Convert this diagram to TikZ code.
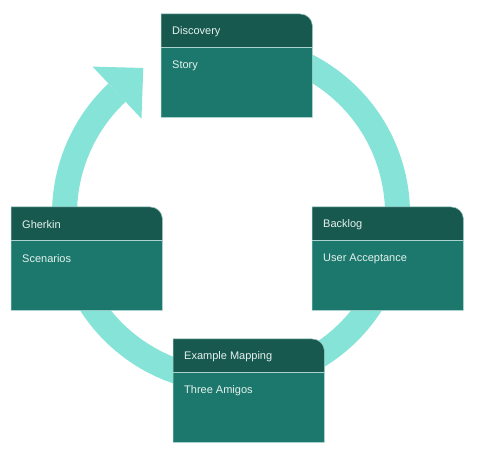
\documentclass[tikz,border=0pt]{standalone}
\usepackage{fontspec}
\setmainfont{Liberation Sans}
\usetikzlibrary{calc}
\definecolor{ringcol}{HTML}{85E3D8}
\definecolor{headcol}{HTML}{17594F}
\definecolor{bodycol}{HTML}{1C786C}
\definecolor{edgecol}{HTML}{A9D3CC}
\definecolor{txtcol}{HTML}{E6F2EF}
\tikzset{
  boxframe/.style={minimum width=151pt, minimum height=103pt, inner sep=0pt, anchor=north west, draw=none},
  lbl/.style={anchor=west, inner sep=0pt, text=txtcol, font=\fontsize{11}{13}\selectfont},
  ring/.style={draw=ringcol, line width=25pt},
  ringhead/.style={fill=ringcol, draw=none},
}
\newcommand{\cardbox}[5]{% name, x, y(top, px), header, body
  \node[boxframe] (#1) at (#2, 460-#3) {};
  \fill[bodycol] (#1.south west) -- (#1.north west) -- ([xshift=-12pt]#1.north east)
     arc[start angle=90, end angle=0, radius=12pt] -- (#1.south east) -- cycle;
  \fill[headcol] ([yshift=-33pt]#1.north west) -- (#1.north west) -- ([xshift=-12pt]#1.north east)
     arc[start angle=90, end angle=0, radius=12pt] -- ([yshift=-33pt]#1.north east) -- cycle;
  \draw[edgecol, line width=0.5pt] ([yshift=-33pt]#1.north west) -- ([yshift=-33pt]#1.north east);
  \draw[edgecol, line width=0.5pt] (#1.south west) -- (#1.north west) -- ([xshift=-12pt]#1.north east)
     arc[start angle=90, end angle=0, radius=12pt] -- (#1.south east) -- cycle;
  \node[lbl] (#1h) at ([xshift=11pt, yshift=-17.5pt]#1.north west) {#4};
  \node[lbl] (#1b) at ([xshift=11pt, yshift=-51.5pt]#1.north west) {#5};
}
\begin{document}
\begin{tikzpicture}[x=1pt, y=1pt]
\useasboundingbox (0,0) rectangle (478,460);
\fill[white] (0,0) rectangle (478,460);
\coordinate (c) at (231, 246);
% ring
\draw[ring] ($(c)+(105:166.5)$) arc[start angle=105, end angle=-226.8, radius=166.5];
\coordinate (hb) at ($(c)+(133.2:166.5)$);
\coordinate (ho) at ($(c)+(133.2:202.2)$);
\coordinate (hi) at ($(c)+(133.2:130.8)$);
\coordinate (ht) at ($(hb)+(43.2:36)$);
\fill[ringhead] (ho) -- (ht) -- (hi) -- cycle;
% boxes
\cardbox{disc}{161}{14}{Discovery}{Story}
\cardbox{gher}{11}{207}{Gherkin}{Scenarios}
\cardbox{back}{312}{207}{Backlog}{User Acceptance}
\cardbox{exam}{173}{339}{Example Mapping}{Three Amigos}
\end{tikzpicture}
\end{document}
